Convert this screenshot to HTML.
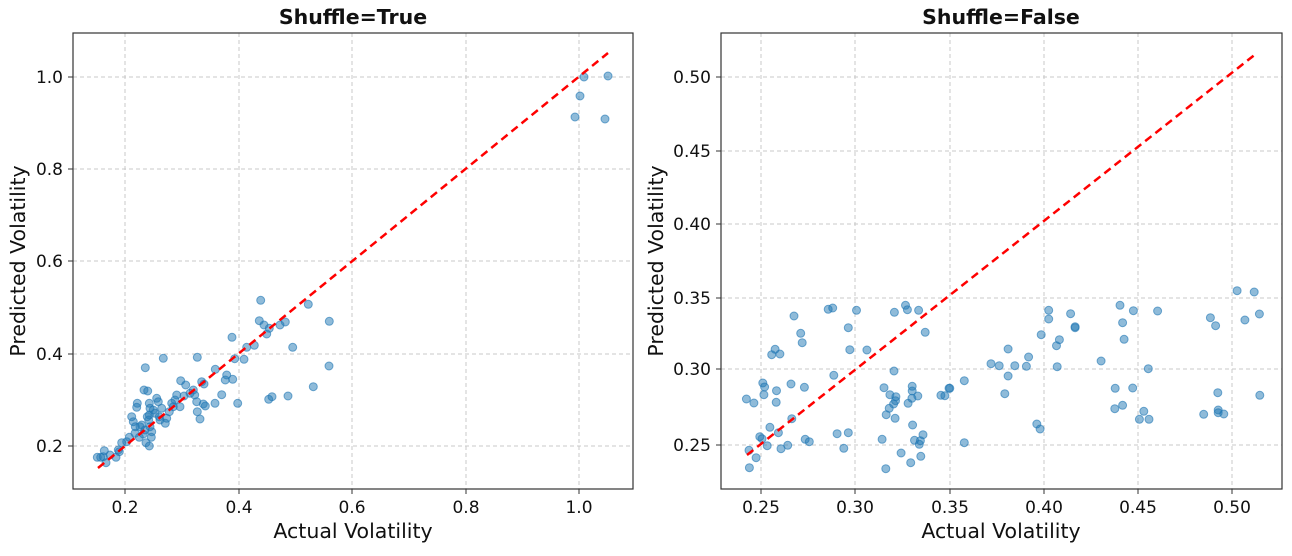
<!DOCTYPE html>
<html><head><meta charset="utf-8"><style>
body{margin:0;background:#fff;width:1292px;height:551px;overflow:hidden}
svg text{font-family:"DejaVu Sans","Liberation Sans",sans-serif;fill:#111}
</style></head><body>
<svg id="s" width="1292" height="551" xmlns="http://www.w3.org/2000/svg">
<g stroke="#c8c8c8" stroke-dasharray="4,3" stroke-width="1">
<line x1="125" y1="33" x2="125" y2="489"/><line x1="239" y1="33" x2="239" y2="489"/><line x1="352" y1="33" x2="352" y2="489"/><line x1="466" y1="33" x2="466" y2="489"/><line x1="579" y1="33" x2="579" y2="489"/>
<line x1="73" y1="446" x2="633" y2="446"/><line x1="73" y1="354" x2="633" y2="354"/><line x1="73" y1="261" x2="633" y2="261"/><line x1="73" y1="169" x2="633" y2="169"/><line x1="73" y1="77" x2="633" y2="77"/>
<line x1="761" y1="33" x2="761" y2="489"/><line x1="855" y1="33" x2="855" y2="489"/><line x1="950" y1="33" x2="950" y2="489"/><line x1="1044" y1="33" x2="1044" y2="489"/><line x1="1138" y1="33" x2="1138" y2="489"/><line x1="1232" y1="33" x2="1232" y2="489"/>
<line x1="721" y1="445" x2="1282" y2="445"/><line x1="721" y1="369" x2="1282" y2="369"/><line x1="721" y1="298" x2="1282" y2="298"/><line x1="721" y1="224" x2="1282" y2="224"/><line x1="721" y1="151" x2="1282" y2="151"/><line x1="721" y1="77" x2="1282" y2="77"/>
</g>
<g id="pts" fill="#1f77b4" fill-opacity="0.5" stroke="#1f77b4" stroke-opacity="0.6" stroke-width="1"></g>
<line x1="98" y1="468" x2="608" y2="53" stroke="#f00" stroke-width="2.5" stroke-dasharray="8,5"/>
<line x1="747" y1="455" x2="1257" y2="53" stroke="#f00" stroke-width="2.5" stroke-dasharray="8,5"/>
<rect x="73" y="33" width="560" height="456" fill="none" stroke="#333" stroke-width="1.2"/>
<rect x="721" y="33" width="561" height="456" fill="none" stroke="#333" stroke-width="1.2"/>
<g stroke="#333"><line x1="125" y1="489" x2="125" y2="494"/><line x1="239" y1="489" x2="239" y2="494"/><line x1="352" y1="489" x2="352" y2="494"/><line x1="466" y1="489" x2="466" y2="494"/><line x1="579" y1="489" x2="579" y2="494"/>
<line x1="68" y1="446" x2="73" y2="446"/><line x1="68" y1="354" x2="73" y2="354"/><line x1="68" y1="261" x2="73" y2="261"/><line x1="68" y1="169" x2="73" y2="169"/><line x1="68" y1="77" x2="73" y2="77"/>
<line x1="761" y1="489" x2="761" y2="494"/><line x1="855" y1="489" x2="855" y2="494"/><line x1="950" y1="489" x2="950" y2="494"/><line x1="1044" y1="489" x2="1044" y2="494"/><line x1="1138" y1="489" x2="1138" y2="494"/><line x1="1232" y1="489" x2="1232" y2="494"/>
<line x1="716" y1="445" x2="721" y2="445"/><line x1="716" y1="369" x2="721" y2="369"/><line x1="716" y1="298" x2="721" y2="298"/><line x1="716" y1="224" x2="721" y2="224"/><line x1="716" y1="151" x2="721" y2="151"/><line x1="716" y1="77" x2="721" y2="77"/></g>
<g font-size="17" text-anchor="middle">
<text x="125" y="513">0.2</text><text x="239" y="513">0.4</text><text x="352" y="513">0.6</text><text x="466" y="513">0.8</text><text x="579" y="513">1.0</text>
<text x="761" y="513">0.25</text><text x="855" y="513">0.30</text><text x="950" y="513">0.35</text><text x="1044" y="513">0.40</text><text x="1138" y="513">0.45</text><text x="1232" y="513">0.50</text>
</g>
<g font-size="17" text-anchor="end">
<text x="63" y="452">0.2</text><text x="63" y="360">0.4</text><text x="63" y="267">0.6</text><text x="63" y="175">0.8</text><text x="63" y="83">1.0</text>
<text x="711" y="451">0.25</text><text x="711" y="375">0.30</text><text x="711" y="304">0.35</text><text x="711" y="230">0.40</text><text x="711" y="157">0.45</text><text x="711" y="83">0.50</text>
</g>
<g font-size="20.5" text-anchor="middle">
<text x="353" y="24" font-weight="bold">Shuffle=True</text>
<text x="1001" y="24" font-weight="bold">Shuffle=False</text>
<text x="353" y="538">Actual Volatility</text>
<text x="1001" y="538">Actual Volatility</text>
<text transform="translate(25,261) rotate(-90)">Predicted Volatility</text>
<text transform="translate(663,261) rotate(-90)">Predicted Volatility</text>
</g>
</svg>
<script>
var L=[[112,592],[122,592],[133,572],[138,608],[130,590],[168,592],[175,570],[185,548],[178,575],[208,532],[215,470],[220,485],[226,500],[232,430],[230,442],[238,532],[245,495],[250,522],[256,323],[252,390],[263,393],[258,548],[268,558],[274,532],[275,515],[268,430],[270,445],[268,465],[266,480],[280,450],[290,415],[295,425],[298,470],[310,295],[316,490],[320,475],[328,455],[340,440],[345,420],[350,405],[362,362],[377,375],[360,440],[372,408],[400,390],[404,405],[410,425],[412,455],[420,477],[412,292],[430,432],[436,438],[425,365],[432,372],[465,430],[466,328],[485,404],[496,360],[500,345],[518,358],[516,232],[524,296],[533,430],[552,298],[560,262],[583,256],[598,182],[602,121],[612,195],[620,222],[628,205],[626,418],[636,410],[660,195],[676,186],[684,408],[698,262],[745,133],[760,380],[808,184],[807,318],[240,500],[262,470],[285,460],[305,445],[225,520],[200,545],[150,585],[255,510],[270,500],[335,430],[390,400],[300,480]];
var R=[[98,387],[118,399],[142,339],[147,351],[145,374],[179,362],[178,397],[166,254],[175,238],[188,252],[226,138],[244,190],[248,218],[218,342],[254,352],[220,446],[161,472],[184,488],[134,500],[140,506],[154,527],[105,541],[124,563],[106,593],[191,536],[209,526],[256,508],[267,515],[318,118],[330,114],[372,173],[376,239],[394,121],[422,240],[333,316],[495,303],[468,353],[484,374],[500,380],[499,392],[494,402],[482,415],[474,434],[498,445],[342,491],[372,488],[360,535],[463,508],[473,596],[514,549],[540,578],[567,559],[545,465],[496,127],[526,106],[531,119],[561,121],[579,187],[544,349],[544,363],[543,385],[559,378],[533,400],[550,511],[563,523],[566,512],[573,494],[621,376],[632,377],[643,355],[645,355],[684,332],[684,518],[756,281],[778,287],[820,287],[851,289],[857,261],[802,237],[802,318],[793,371],[879,462],[888,477],[891,194],[911,121],[911,147],[940,209],[932,227],[934,290],[970,131],[982,170],[982,173],[1052,273],[1103,106],[1110,158],[1114,208],[1139,122],[1204,123],[1179,296],[1090,355],[1137,354],[1089,416],[1110,406],[1167,424],[1155,448],[1181,448],[1346,143],[1360,167],[1366,368],[1418,62],[1464,66],[1478,132],[1439,150],[1479,376],[1367,420],[1367,428],[1382,432],[1328,433]];
var g=document.getElementById('pts'),h='';
L.forEach(function(p){h+='<circle cx="'+(60+p[0]/3).toFixed(1)+'" cy="'+(260+p[1]/3).toFixed(1)+'" r="4"/>';});
[[584,77],[580,96],[575,117],[608,76],[605,119]].forEach(function(p){h+='<circle cx="'+p[0]+'" cy="'+p[1]+'" r="4"/>';});
R.forEach(function(p){h+='<circle cx="'+(710+p[0]/2.69).toFixed(1)+'" cy="'+(270+p[1]/3).toFixed(1)+'" r="4"/>';});
g.innerHTML=h;
</script>
</body></html>
